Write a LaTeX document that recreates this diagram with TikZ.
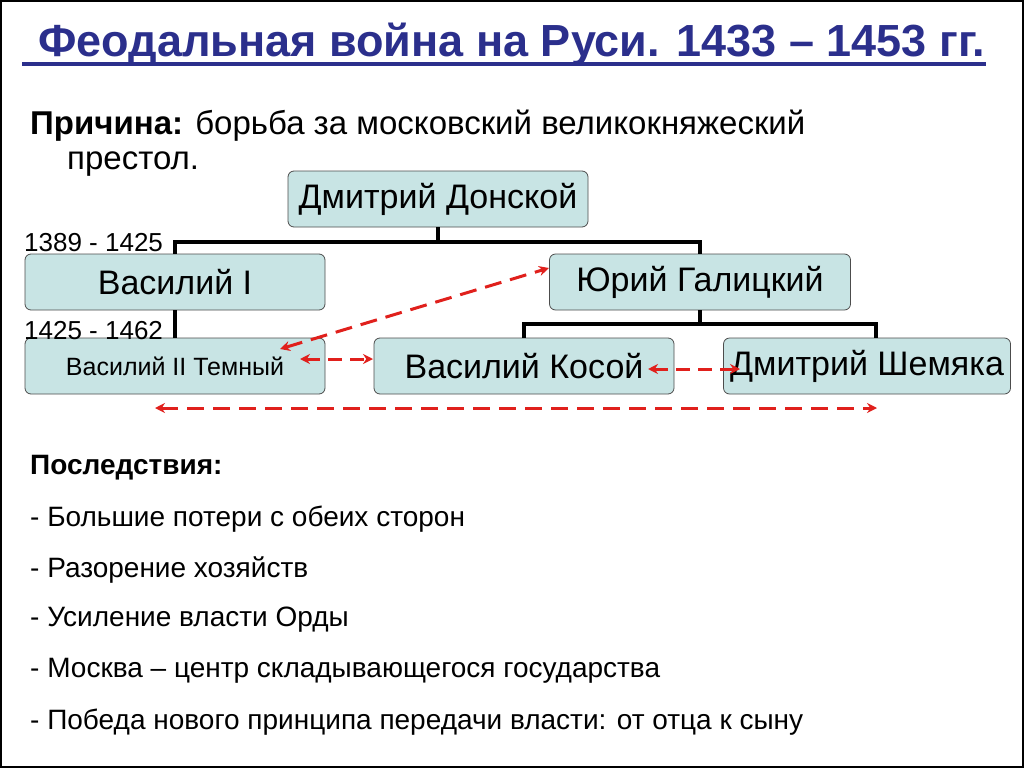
\documentclass[tikz,border=0pt]{standalone}
\usepackage{fontspec}
\setmainfont{Liberation Sans}
\usetikzlibrary{arrows.meta}
\definecolor{boxfill}{HTML}{C8E4E4}
\definecolor{titleblue}{HTML}{2B2F8C}
\definecolor{arrred}{HTML}{E0201C}
\tikzset{
 person/.style={draw=black!70,line width=0.8pt,fill=boxfill,rounded corners=6pt,minimum height=56pt,inner sep=0pt,font=\fontsize{34}{38}\selectfont},
 tree/.style={line width=4.5pt},
 war/.style={draw=arrred,line width=3pt,dash pattern=on 17pt off 9pt,{Stealth[length=10pt,width=10pt]}-{Stealth[length=10pt,width=10pt]}},
 txt/.style={anchor=west,inner sep=0pt,font=\fontsize{28}{32}\selectfont},
 yr/.style={anchor=west,inner sep=0pt,font=\fontsize{26}{28}\selectfont},
}
\begin{document}
\begin{tikzpicture}[x=1pt,y=-1pt]
\useasboundingbox (0,0) rectangle (1024,768);
\draw[line width=1.5pt] (1,1) rectangle (1023,767);
\node[anchor=west,inner sep=0pt,font=\bfseries\fontsize{45}{48}\selectfont,text=titleblue] (title) at (38,44) {Феодальная война на Руси. 1433 – 1453 гг.};
\coordinate (u1) at (22,64);
\coordinate (u2) at (986,64);
\draw[titleblue,line width=3.5pt] (u1) -- (u2);
\node[anchor=west,inner sep=0pt,font=\fontsize{33}{36}\selectfont] (cause1) at (30,126) {\textbf{Причина:} борьба за московский великокняжеский};
\node[anchor=west,inner sep=0pt,font=\fontsize{33}{36}\selectfont] (cause2) at (67,164) {престол.};
\node[person,minimum width=300pt] (dd) at (438,199) {Дмитрий Донской};
\node[person,minimum width=300pt] (v1) at (175,282) {Василий I};
\node[person,minimum width=301pt] (yg) at (700,282) {Юрий Галицкий};
\node[person,minimum width=300pt,font=\fontsize{25}{28}\selectfont] (v2) at (175,366) {Василий II Темный};
\node[person,minimum width=300pt] (vk) at (524,366) {Василий Косой};
\node[person,minimum width=287pt] (ds) at (867,366) {Дмитрий Шемяка};
\node[yr] (y1) at (24,243) {1389 - 1425};
\node[yr] (y2) at (24,331) {1425 - 1462};
\coordinate (j1) at (438,242);
\coordinate (j2) at (700,324);
\draw[tree] (dd.south) -- (j1) (175,242) -- (700,242) (175,240) -- (v1.north) (700,240) -- (yg.north);
\draw[tree] (v1.south) -- (v2.north);
\draw[tree] (yg.south) -- (j2) (524,324) -- (876,324) (524,322) -- (vk.north) (876,322) -- (876,338);
\coordinate (a1) at (280,349);
\coordinate (a2) at (549,268);
\coordinate (b1) at (300,359);
\coordinate (b2) at (373,359);
\coordinate (c1) at (648,369);
\coordinate (c2) at (740,369);
\coordinate (d1) at (155,408);
\coordinate (d2) at (877,408);
\draw[war] (a1) -- (a2);
\draw[war,dash pattern=on 14pt off 8pt] (b1) -- (b2);
\draw[war,dash pattern=on 14pt off 8pt] (c1) -- (c2);
\draw[war] (d1) -- (d2);
\node[txt,font=\bfseries\fontsize{28}{32}\selectfont] (p0) at (30,468) {Последствия:};
\node[txt] (p1) at (30,519) {- Большие потери с обеих сторон};
\node[txt] (p2) at (30,570) {- Разорение хозяйств};
\node[txt] (p3) at (30,620) {- Усиление власти Орды};
\node[txt] (p4) at (30,671) {- Москва – центр складывающегося государства};
\node[txt] (p5) at (30,722) {- Победа нового принципа передачи власти: от отца к сыну};
\end{tikzpicture}
\end{document}
